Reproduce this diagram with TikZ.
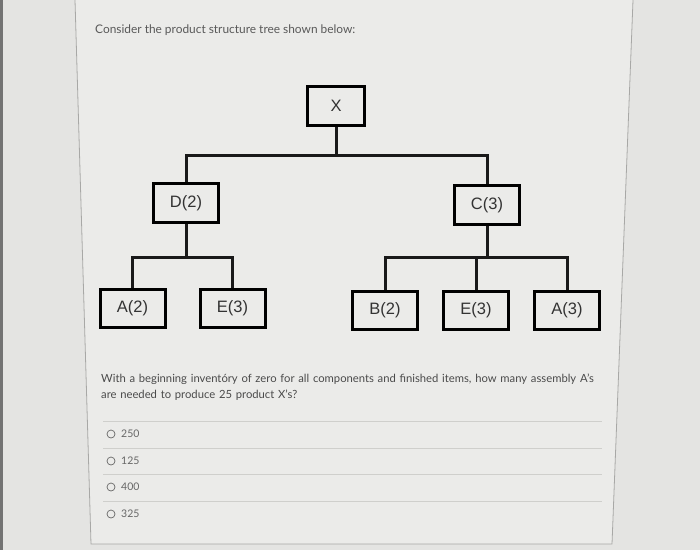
\documentclass[tikz,border=0pt]{standalone}
\usepackage{fontspec}
\setmainfont{Lato}
\newfontfamily\boxfont{Liberation Sans}
\definecolor{bgc}{HTML}{E4E4E2}
\definecolor{panelc}{HTML}{EBEBE9}
\definecolor{edgec}{HTML}{A8A8A6}
\definecolor{sepc}{HTML}{CFCFCC}
\definecolor{txtc}{HTML}{4A4A4A}
\definecolor{optc}{HTML}{666666}
\tikzset{
  part/.style={draw=black, line width=3pt, fill=panelc, minimum width=65pt, minimum height=38pt, inner sep=0pt, font=\boxfont\fontsize{16.5}{18}\selectfont, text=black!80},
  link/.style={line width=3pt, draw=black!90},
  radio/.style={circle, draw=optc, line width=0.7pt, minimum size=8pt, inner sep=0pt},
  opt/.style={anchor=west, font=\fontsize{10.5}{12}\selectfont, text=optc, inner sep=0pt},
}
\begin{document}
\begin{tikzpicture}[x=1pt, y=-1pt]
\useasboundingbox (0,0) rectangle (700,550);
\fill[bgc] (0,0) rectangle (700,550);
\fill[black!55] (0,0) rectangle (2.5,550);
\fill[panelc] (75,0) -- (633,0) -- (612,544) -- (91,544) -- cycle;
\draw[edgec, line width=0.8pt] (75,0) -- (91,544) -- (612,544) -- (633,0);

\node[anchor=west, inner sep=0pt, text=black!65, font=\fontsize{11.9}{14}\selectfont] (head) at (95,30) {Consider the product structure tree shown below:};

% tree
\node[part, minimum width=57pt, minimum height=39pt] (X) at (336,106) {X};
\node[part, minimum height=39pt] (D) at (186,203) {D(2)};
\node[part, minimum height=39pt] (C) at (487,205) {C(3)};
\node[part] (A2) at (132.5,308) {A(2)};
\node[part] (E3a) at (232.5,308) {E(3)};
\node[part] (B2) at (385,310) {B(2)};
\node[part] (E3b) at (476,310) {E(3)};
\node[part] (A3) at (567,310) {A(3)};

\coordinate (j1) at (336,155);
\coordinate (j2) at (186,257);
\coordinate (j3) at (487,257);
\draw[link] (X.south) -- (j1);
\draw[link] (D.north) |- (j1);
\draw[link] (C.north) |- (j1);
\draw[link] (D.south) -- (j2);
\draw[link] (A2.north) |- (j2);
\draw[link] (E3a.north) |- (j2);
\draw[link] (C.south) -- (j3);
\draw[link] (B2.north) |- (j3);
\draw[link] (E3b.north) |- (j3);
\draw[link] (A3.north) |- (j3);

% question
\node[anchor=north west, inner sep=0pt, text=txtc, align=left, text width=496pt, font=\fontsize{11.25}{16}\selectfont] (q) at (101,374) {With a beginning inventóry of zero for all components and finished items, how many assembly A's are needed to produce 25 product X's?};

\foreach \y in {421,448,474,501} \draw[sepc, line width=0.8pt] (103,\y) -- (602,\y);

\node[radio] (r1) at (111,434) {};
\node[radio] (r2) at (111,461) {};
\node[radio] (r3) at (111,487) {};
\node[radio] (r4) at (111,514) {};
\node[opt] (o1) at (121,434) {250};
\node[opt] (o2) at (121,461) {125};
\node[opt] (o3) at (121,487) {400};
\node[opt] (o4) at (121,514) {325};
\end{tikzpicture}
\end{document}
